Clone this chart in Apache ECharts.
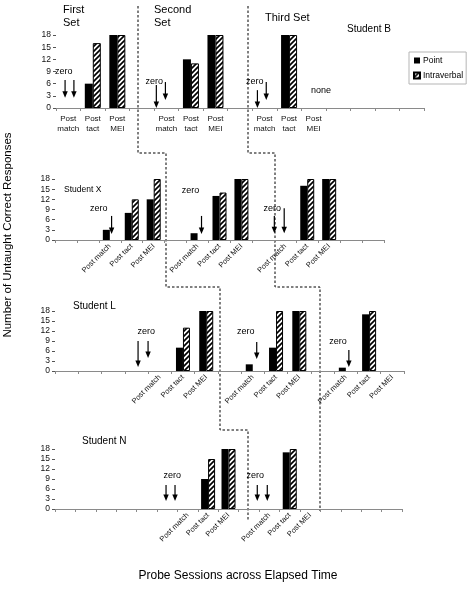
<!DOCTYPE html>
<html><head><meta charset="utf-8">
<script src="https://cdn.jsdelivr.net/npm/echarts@6/dist/echarts.min.js"></script>
<style>html,body{margin:0;padding:0;background:#fff}#c{width:474px;height:589px}</style>
</head><body><div id="c"></div>
<script>
// ---------- DATA ----------
const seriesNames = ['Point', 'Intraverbal'];
const yTicks = [0, 3, 6, 9, 12, 15, 18];

// Student B
const categoriesB = ['Post\nmatch','Post\ntact','Post\nMEI','','Post\nmatch','Post\ntact','Post\nMEI','','Post\nmatch','Post\ntact','Post\nMEI','','','',''];
const pointB = [0, 6, 18, null, 0, 12, 18, null, 0, 18, null, null, null, null, null];
const intraB = [0, 16, 18, null, 0, 11, 18, null, 0, 18, null, null, null, null, null];

// Student X
const categoriesX = ['','','Post match','Post tact','Post MEI','','Post match','Post tact','Post MEI','','Post match','Post tact','Post MEI','',''];
const pointX = [null, null, 3, 8, 12, null, 2, 13, 18, null, 0, 16, 18, null, null];
const intraX = [null, null, 0, 12, 18, null, 0, 14, 18, null, 0, 18, 18, null, null];

// Student L
const categoriesL = ['','','','','Post match','Post tact','Post MEI','','Post match','Post tact','Post MEI','','Post match','Post tact','Post MEI'];
const pointL = [null, null, null, null, 0, 7, 18, null, 2, 7, 18, null, 1, 17, null];
const intraL = [null, null, null, null, 0, 13, 18, null, 0, 18, 18, null, 0, 18, null];

// Student N
const categoriesN = ['','','','','','','Post match','Post tact','Post MEI','','Post match','Post tact','Post MEI','','','',''];
const pointN = [null, null, null, null, null, null, 0, 9, 18, null, 0, 17, null, null, null, null, null];
const intraN = [null, null, null, null, null, null, 0, 15, 18, null, 0, 18, null, null, null, null, null];

// "zero" arrows: [category, offset in bands, arrow top value, arrow tip value]
const zeroArrowsB = [[0,-0.13,6.9,2.5],[0,0.23,6.9,2.5],[4,-0.41,5.7,0],[4,-0.04,6.4,2],[8,-0.29,4.4,0],[8,0.07,6.4,2]];
const zeroArrowsX = [[2,0.08,7.1,1.8],[6,0.18,7.1,1.8],[10,-0.5,7.1,2],[10,-0.05,9.4,2]];
const zeroArrowsL = [[4,-0.93,9,1.2],[4,-0.5,9,3.9],[8,0.17,8.7,3.6],[12,0.13,6.3,1.2]];
const zeroArrowsN = [[6,-1.06,7.2,2.4],[6,-0.62,7.2,2.4],[10,-0.59,7.2,2.4],[10,-0.1,7.2,2.4]];
// note labels: [category, offset in bands, value, text]
const notesB = [[0,-0.18,8.9,'zero'],[4,-0.5,6.6,'zero'],[8,-0.4,6.6,'zero'],[10,0.3,4.4,'none']];
const notesX = [[2,-0.5,9.4,'zero'],[6,-0.32,14.7,'zero'],[10,-0.6,9.4,'zero']];
const notesL = [[4,-0.58,11.7,'zero'],[8,-0.3,11.7,'zero'],[12,-0.34,8.7,'zero']];
const notesN = [[6,-0.76,9.9,'zero'],[10,-0.69,9.9,'zero']];

// ---------- STYLE ----------
const FONT = 'Liberation Sans, Arial, sans-serif';
const pc = document.createElement('canvas');
pc.width = 5; pc.height = 5;
const g = pc.getContext('2d');
g.fillStyle = '#fff'; g.fillRect(0, 0, 5, 5);
g.strokeStyle = '#000'; g.lineWidth = 1.7; g.lineCap = 'square';
g.beginPath();
g.moveTo(0, 5); g.lineTo(5, 0);
g.moveTo(-1, 1); g.lineTo(1, -1);
g.moveTo(4, 6); g.lineTo(6, 4);
g.stroke();
const hatch = { image: pc, repeat: 'repeat' };

const panels = [
  { cats: categoriesB, point: pointB, intra: intraB, arrows: zeroArrowsB, notes: notesB,
    grid: { left: 56, top: 35, width: 368, height: 73 }, rotate: 0, barW: 8 },
  { cats: categoriesX, point: pointX, intra: intraX, arrows: zeroArrowsX, notes: notesX,
    grid: { left: 55, top: 179, width: 329, height: 61 }, rotate: 45, barW: 7 },
  { cats: categoriesL, point: pointL, intra: intraL, arrows: zeroArrowsL, notes: notesL,
    grid: { left: 55, top: 311, width: 349, height: 60 }, rotate: 45, barW: 7 },
  { cats: categoriesN, point: pointN, intra: intraN, arrows: zeroArrowsN, notes: notesN,
    grid: { left: 55, top: 449, width: 347, height: 60 }, rotate: 45, barW: 7 }
];

function arrowItem(params, api) {
  const c = api.value(0), dx = api.value(1), top = api.value(2), tip = api.value(3);
  const band = api.size([1, 0])[0];
  const p1 = api.coord([c, top]);
  const p2 = api.coord([c, tip]);
  const x = p1[0] + dx * band;
  const hw = 2.7, hh = 6.5;
  return { type: 'group', children: [
    { type: 'line', shape: { x1: x, y1: p1[1], x2: x, y2: p2[1] - hh + 1 }, style: { stroke: '#000', lineWidth: 1.2 } },
    { type: 'polygon', shape: { points: [[x - hw, p2[1] - hh], [x + hw, p2[1] - hh], [x, p2[1]]] }, style: { fill: '#000' } }
  ]};
}
function makeNoteItem(notes) {
  return function (params, api) {
    const n = notes[params.dataIndex];
    const band = api.size([1, 0])[0];
    const p = api.coord([n[0], n[2]]);
    return { type: 'text', x: p[0] + n[1] * band, y: p[1],
      style: { text: n[3], fill: '#000', font: '9px ' + FONT, textAlign: 'center', textVerticalAlign: 'middle' } };
  };
}
// zero-valued bars get no outline (nothing is drawn for them)
const noZeroOutline = arr => arr.map(v => v === 0 ? { value: 0, itemStyle: { borderWidth: 0 } } : v);

const grids = [], xAxes = [], yAxes = [], series = [];
panels.forEach((p, i) => {
  grids.push(Object.assign({ containLabel: false }, p.grid));
  xAxes.push({
    type: 'category', gridIndex: i, data: p.cats,
    axisLine: { lineStyle: { color: '#8a8a8a', width: 1 } },
    axisTick: { show: true, length: 3, lineStyle: { color: '#8a8a8a' } },
    axisLabel: p.rotate ? { interval: 0, rotate: 45, fontSize: 7.5, color: '#111', fontFamily: FONT, margin: 5 }
                        : { interval: 0, fontSize: 8, lineHeight: 10, color: '#111', fontFamily: FONT, margin: 6 },
    splitLine: { show: false }
  });
  yAxes.push({
    type: 'value', gridIndex: i, min: yTicks[0], max: yTicks[yTicks.length - 1], interval: yTicks[1] - yTicks[0],
    axisLine: { show: false },
    axisTick: { show: true, length: 3, lineStyle: { color: '#555' } },
    axisLabel: { fontSize: 8.5, color: '#111', fontFamily: FONT, margin: 5 },
    splitLine: { show: false }
  });
  series.push({
    name: seriesNames[0], type: 'bar', xAxisIndex: i, yAxisIndex: i, data: p.point,
    barWidth: p.barW, barGap: '0%', itemStyle: { color: '#000', borderColor: '#000', borderWidth: 0 },
    animation: false
  });
  series.push({
    name: seriesNames[1], type: 'bar', xAxisIndex: i, yAxisIndex: i, data: noZeroOutline(p.intra),
    barWidth: p.barW, barGap: '0%', itemStyle: { color: hatch, borderColor: '#000', borderWidth: 1 },
    animation: false
  });
  series.push({
    type: 'custom', xAxisIndex: i, yAxisIndex: i, data: p.arrows, renderItem: arrowItem,
    encode: { x: 0, y: [2, 3] }, silent: true, animation: false, z: 5
  });
  series.push({
    type: 'custom', xAxisIndex: i, yAxisIndex: i, data: p.notes.map(n => [n[0], n[1], n[2]]),
    renderItem: makeNoteItem(p.notes), encode: { x: 0, y: 2 }, silent: true, animation: false, z: 6
  });
});

const dash = { stroke: '#000', lineWidth: 1, lineDash: [2.5, 2], fill: null };
const txt = (left, top, text, size) => ({
  type: 'text', left, top, style: { text, fill: '#000', font: size + 'px ' + FONT, lineHeight: 12.5 }
});

const chart = echarts.init(document.getElementById('c'), null, { renderer: 'canvas' });
chart.setOption({
  backgroundColor: '#fff',
  animation: false,
  grid: grids, xAxis: xAxes, yAxis: yAxes, series,
  legend: {
    data: seriesNames, orient: 'vertical', left: 409, top: 52,
    itemWidth: 6, itemHeight: 6, itemGap: 6, icon: 'rect',
    padding: [4, 3, 4, 4], borderColor: '#b5b5b5', borderWidth: 1,
    textStyle: { fontSize: 8.5, color: '#000', fontFamily: FONT, padding: [0, 0, 0, -2] },
    selectedMode: false
  },
  graphic: [
    { type: 'polyline', shape: { points: [[138, 6], [138, 153], [166, 153], [166, 287], [220, 287], [220, 430], [248, 430], [248, 521]] }, style: dash, silent: true },
    { type: 'polyline', shape: { points: [[248, 6], [248, 153], [275, 153], [275, 287], [320, 287], [320, 511]] }, style: dash, silent: true },
    txt(63, 4, 'First\nSet', 11),
    txt(154, 4, 'Second\nSet', 11),
    txt(265, 12, 'Third Set', 11),
    txt(347, 23, 'Student B', 10),
    txt(64, 183, 'Student X', 8.5),
    txt(73, 300, 'Student L', 10),
    txt(82, 435, 'Student N', 10),
    { type: 'text', x: 8, y: 235, rotation: Math.PI / 2,
      style: { text: 'Number of Untaught Correct Responses', fill: '#000', font: '11.5px ' + FONT, textAlign: 'center', textVerticalAlign: 'middle' } },
    { type: 'text', x: 238, y: 576,
      style: { text: 'Probe Sessions across Elapsed Time', fill: '#000', font: '12px ' + FONT, textAlign: 'center', textVerticalAlign: 'middle' } }
  ]
});
</script>
</body></html>
